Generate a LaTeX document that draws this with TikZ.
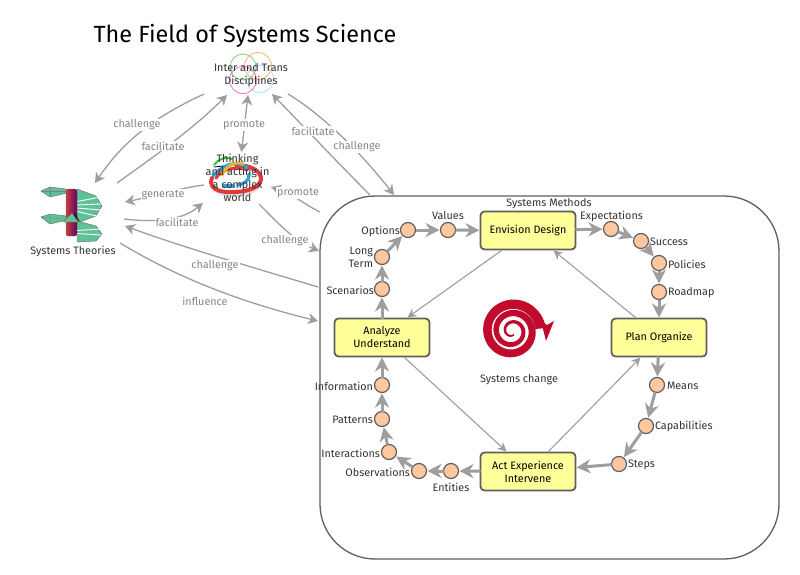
\documentclass[tikz,border=0pt]{standalone}
\usepackage{fontspec}
\setmainfont{Fira Sans}
\usetikzlibrary{arrows.meta,calc}
\definecolor{linkgray}{HTML}{9E9E9E}
\definecolor{labelgray}{HTML}{858585}
\definecolor{boxline}{HTML}{5F5F5F}
\definecolor{boxfill}{HTML}{FFFF99}
\definecolor{dotfill}{HTML}{FFC8A0}
\definecolor{spiralred}{HTML}{C00A2E}
\definecolor{blade}{HTML}{5EC296}
\definecolor{ringred}{HTML}{E23A3A}
\definecolor{ringblue}{HTML}{2FA3E0}
\definecolor{ringyellow}{HTML}{EDB52A}
\definecolor{ringgreen}{HTML}{3CC43C}
\tikzset{
  x=1pt,y=-1pt,
  every node/.style={font=\fontsize{10.8}{13}\selectfont,text=black!80,inner sep=0pt,outer sep=0pt,yshift=-1pt},
  heavy/.style={draw=linkgray,line width=3pt,-{Stealth[length=14pt,width=14pt,inset=4.5pt]},shorten >=1pt},
  light/.style={draw=linkgray,line width=1.3pt,-{Stealth[length=10pt,width=11pt,inset=3pt]}},
  thin link/.style={draw=linkgray,line width=1.1pt,-{Stealth[length=9pt,width=9pt,inset=3pt]}},
  stagebox/.style={draw=boxline,line width=1.8pt,fill=boxfill,rounded corners=4pt,minimum width=95pt,minimum height=38pt,align=center,text=black,yshift=.5pt},
  dot/.style={circle,draw=boxline,line width=1.2pt,fill=dotfill,minimum size=15pt,yshift=1pt},
  linklabel/.style={fill=white,text=labelgray,inner sep=1pt},
  ghost/.style={inner sep=0pt,align=center,yshift=1pt},
}
\begin{document}
\begin{tikzpicture}
\useasboundingbox (0,0) rectangle (800,575);
\fill[white] (0,0) rectangle (800,575);
% container
\node[draw=boxline,line width=1.3pt,rounded corners=55pt,minimum width=459pt,minimum height=363pt,yshift=1pt] (M) at (549.5,377.5) {};
\node[fill=white,inner sep=1pt] (Mlabel) at (549,203) {Systems Methods};
\node[font=\fontsize{23.4}{28}\selectfont,text=black] (title) at (245,35) {The Field of Systems Science};

% Venn icon
\draw[draw=green!45!gray!70,line width=.8pt] (243,67) circle (13);
\draw[draw=orange!60,line width=.8pt] (258,66) circle (13.5);
\draw[draw=cyan!35,line width=.8pt] (260,79) circle (13.5);
\draw[draw=magenta!55,line width=.8pt] (243,80) circle (13.5);

% Thinking icon
\begin{scope}[line cap=round]
\draw[black!12,line width=5pt] (212,186) .. controls (220,198) and (250,196) .. (258,186);
\draw[ringred,line width=4pt] (236,165) .. controls (252,165) and (262,172) .. (261,180) .. controls (259,190) and (240,193) .. (226,192) .. controls (214,191) and (209,185) .. (212,178);
\draw[ringred,line width=3pt] (216,178) .. controls (222,168) and (240,166) .. (247,170);
\draw[ringblue,line width=3.2pt] (213,176) .. controls (220,167) and (236,158) .. (247,168);
\draw[ringblue,line width=3.2pt] (249,174) .. controls (250,180) and (244,184) .. (238,185);
\draw[ringblue,line width=3.2pt] (233,186) -- (224,186);
\draw[ringyellow,line width=3pt] (222,175) .. controls (225,167) and (236,160) .. (243,164);
\draw[ringgreen,line width=2pt] (214,165) .. controls (218,159) and (226,156) .. (232,159);
\draw[black,line width=.8pt] (214,167) -- (223,166);
\end{scope}

% Systems Theories icon
\begin{scope}
\fill[blade,draw=black!60,line width=.4pt] (77,189) -- (96,196) -- (102,206) -- (96,216) -- (77,223) -- cycle;
\foreach \yy in {197,204,210,217}{\draw[white,line width=.9pt] (77,{206+(\yy-206)*.5}) -- (101,\yy);}
\fill[blade,draw=black!60,line width=.4pt] (77,221) -- (96,226) -- (102,234) -- (96,241) -- (77,242) -- cycle;
\foreach \yy in {229,235}{\draw[white,line width=.9pt] (77,{232+(\yy-232)*.5}) -- (101,\yy);}
\fill[blade,draw=black!60,line width=.4pt] (41,191) -- (50,187) -- (66,189) -- (67,193) -- (50,197) -- cycle;
\draw[black!50,line width=.3pt] (41,191) -- (67,191) (50,187) -- (50,197);
\fill[blade,draw=black!60,line width=.4pt] (41,217) -- (50,214) -- (66,216) -- (67,220) -- (50,224) -- cycle;
\draw[black!50,line width=.3pt] (41,217) -- (67,219) (50,214) -- (50,224);
\shade[left color=red!70!black!75,right color=violet!80!black,draw=black!60,line width=.3pt,rounded corners=2pt] (66,189) rectangle (77,236);
\fill[blade,draw=black!60,line width=.3pt] (63,222) -- (72,213) -- (78,222) -- cycle;
\draw[black,line width=.7pt] (74,213) -- (79,221);
\end{scope}

% Spiral icon
\begin{scope}
\fill[spiralred]
  plot[smooth,samples=150,domain=60:1075] ({512+(2.5+\x*0.0245+(0.5+\x*0.0042))*cos(\x)},{331+(2.5+\x*0.0245+(0.5+\x*0.0042))*sin(\x)})
  -- plot[smooth,samples=150,domain=1075:60] ({512+(2.5+\x*0.0245-(0.5+\x*0.0042))*cos(\x)},{331+(2.5+\x*0.0245-(0.5+\x*0.0042))*sin(\x)})
  -- cycle;
\fill[spiralred] (541,321) -- (547,325) -- (554,321) -- (546,341) -- cycle;
\end{scope}

% concept regions (icon with its text)
\node[ghost,minimum width=83pt,minimum height=43pt] (IT) at (246.5,73.5) {};
\node[align=center] (ITt) at (251,74) {Inter and Trans\\Disciplines};
\node[ghost,minimum width=67pt,minimum height=52pt] (TH) at (237.5,178) {Thinking\\and acting in\\a complex\\world};
\node[ghost,minimum width=84pt,minimum height=62pt] (ST) at (83,214) {};
\node (STt) at (73,250) {Systems Theories};
\node (SC) at (519,379) {Systems change};

% stage boxes
\node[stagebox] (E) at (528,230) {Envision Design};
\node[stagebox] (A) at (382,337) {Analyze\\Understand};
\node[stagebox] (P) at (659,337) {Plan Organize};
\node[stagebox] (I) at (528,471) {Act Experience\\Intervene};

% dots
\foreach \n/\p in {d1/{382,289},d2/{382,257},d3/{408,230},d4/{448,230},d5/{611,229},d6/{641,241},d7/{659,263},d8/{659,292},d9/{657,385},d10/{646,426},d11/{619,464},d12/{451,471},d13/{419,471},d14/{389,452},d15/{382,419},d16/{382,385}}
  \node[dot] (\n) at (\p) {};
\node[anchor=east] (l1) at (374,289) {Scenarios};
\node[anchor=east,align=right] (l2) at (373,256.5) {Long\\Term};
\node[anchor=east] (l3) at (400,230) {Options};
\node (l4) at (448,215) {Values};
\node (l5) at (611.5,215) {Expectations};
\node[anchor=west] (l6) at (650,241) {Success};
\node[anchor=west] (l7) at (668,263) {Policies};
\node[anchor=west] (l8) at (668,292) {Roadmap};
\node[anchor=west] (l9) at (667,385) {Means};
\node[anchor=west] (l10) at (655,425) {Capabilities};
\node[anchor=west] (l11) at (628,464) {Steps};
\node (l12) at (451,486) {Entities};
\node[anchor=east] (l13) at (410,471) {Observations};
\node[anchor=east] (l14) at (380,452) {Interactions};
\node[anchor=east] (l15) at (373,419) {Patterns};
\node[anchor=east] (l16) at (373,385) {Information};

% heavy chain
\foreach \u/\v in {A/d1,d1/d2,d2/d3,d3/d4,d4/E,E/d5,d5/d6,d6/d7,d7/d8,d8/P,P/d9,d9/d10,d10/d11,d11/I,I/d12,d12/d13,d13/d14,d14/d15,d15/d16,d16/A}
  \draw[heavy] (\u) -- (\v);

% thin inner links
\draw[thin link] ([shift={(21,1)}]E.south west) -- ([shift={(73,-1)}]A.north west);
\draw[thin link] ([shift={(70,1)}]A.south west) -- ([shift={(26,-1)}]I.north west);
\draw[thin link] ([shift={(68,-1)}]I.north west) -- ([shift={(29,1)}]P.south west);
\draw[thin link] ([shift={(24,-1)}]P.north west) -- ([shift={(73,1)}]E.south west);

% outer links
\draw[light] ([shift={(-1,-1)}]IT.south west) .. controls (152,118) and (122,143) .. ([shift={(54,0)}]ST.north west);
\draw[light] ([shift={(76,-62)}]ST.south west) .. controls (142,165) and (190,132) .. ([shift={(22,0)}]IT.south west);
\draw[light,{Stealth[length=10pt,width=11pt,inset=3pt]}-{Stealth[length=10pt,width=11pt,inset=3pt]}] ([shift={(43,0)}]IT.south west) -- ([shift={(4,0)}]TH.north);
\draw[light] ([shift={(50,-1)}]M.north west) .. controls (340,165) and (305,128) .. ([shift={(67,-1)}]IT.south west);
\draw[light] ([shift={(83,-1)}]IT.south west) .. controls (315,110) and (355,145) .. ([shift={(74,-1)}]M.north west);
\draw[light] ([shift={(0,7)}]TH.west) .. controls (180,188) and (150,197) .. ([shift={(0,-12)}]ST.east);
\draw[light] ([shift={(-1,5)}]ST.east) .. controls (150,222) and (180,222) .. ([shift={(-1,-1)}]TH.south west);
\draw[light] ([shift={(0,16)}]M.north west) .. controls (305,205) and (295,195) .. ([shift={(0,9)}]TH.east);
\draw[light] ([shift={(55,0)}]TH.south west) .. controls (275,220) and (293,240) .. ([shift={(-1,55)}]M.north west);
\draw[light] ([shift={(-2,91)}]M.north west) .. controls (255,268) and (185,248) .. ([shift={(0,12)}]ST.east);
\draw[light] ([shift={(-5,29)}]ST.east) .. controls (155,264) and (215,296) .. ([shift={(-2,125)}]M.north west);

% link labels
\node[linklabel] (k1) at (137,124) {challenge};
\node[linklabel] (k2) at (163,145) {facilitate};
\node[linklabel] (k3) at (244,124) {promote};
\node[linklabel] (k4) at (313,130) {facilitate};
\node[linklabel] (k5) at (357,146) {challenge};
\node[linklabel] (k6) at (163,194) {generate};
\node[linklabel] (k7) at (177,221) {facilitate};
\node[linklabel] (k8) at (298,192) {promote};
\node[linklabel] (k9) at (285,240) {challenge};
\node[linklabel] (k10) at (215,265) {challenge};
\node[linklabel] (k11) at (205,300) {influence};
\end{tikzpicture}
\end{document}
